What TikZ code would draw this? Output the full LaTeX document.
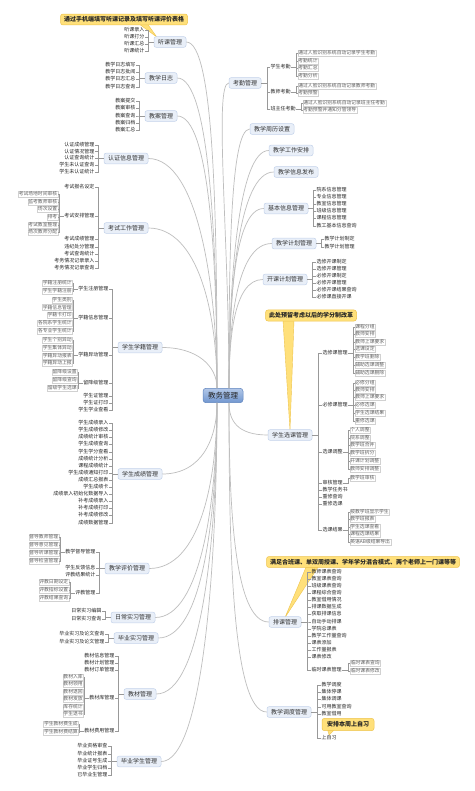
\documentclass[tikz,border=0pt]{standalone}
\usepackage{fontspec}
\setmainfont{Noto Sans CJK SC}
\usetikzlibrary{calc,backgrounds}
\definecolor{lonefill}{HTML}{E9EFF8}
\definecolor{loneb}{HTML}{C3D2EA}
\definecolor{roottop}{HTML}{B3C8E8}
\definecolor{rootbot}{HTML}{7096CF}
\definecolor{rootb}{HTML}{5F84BE}
\definecolor{cy}{HTML}{FFE07A}
\definecolor{cyb}{HTML}{EEC44E}
\definecolor{cline}{HTML}{BEBEBE}
\newcommand\myfs[1]{\fontsize{#1pt}{#1pt}\selectfont}
\tikzset{
  lone/.style={draw=loneb, fill=lonefill, rounded corners=2pt, line width=0.5pt, inner xsep=4pt, inner ysep=2.5pt, font=\myfs{6}, text=black!80},
  rootbox/.style={draw=rootb, top color=roottop, bottom color=rootbot, rounded corners=3pt, line width=0.5pt, inner xsep=5pt, inner ysep=3.75pt, font=\myfs{7.5}, text=black!85},
  ltwo/.style={inner sep=0.5pt, font=\myfs{5}, text=black!85},
  lthree/.style={draw=black!18, line width=0.3pt, inner sep=0.7pt, font=\myfs{4.8}, text=black!62},
  callout/.style={fill=cy, draw=cyb, line width=0.5pt, rounded corners=2.5pt, font=\myfs{6}\bfseries, text=black!85, inner xsep=3.5pt, inner ysep=2.6pt},
  br/.style={draw=black!40, line width=0.35pt},
  rootline/.style={draw=cline, line width=0.7pt},
  wedge/.style={fill=cy, draw=cyb, line width=0.4pt, line join=round},
}
% left children: style, parent, prefix, east x, spine offset, list
\newcommand\LK[6]{%
  \foreach \itm/\ypos [count=\i] in {#6}{%
    \node[#1,anchor=east] (#3-\i) at (#4,-\ypos) {\itm};
    \draw[br] (#2.west) -- ++(-#5,0) |- (#3-\i.east);
  }}
% right children
\newcommand\RK[6]{%
  \foreach \itm/\ypos [count=\i] in {#6}{%
    \node[#1,anchor=west] (#3-\i) at (#4,-\ypos) {\itm};
    \draw[br] (#2.east) -- ++(#5,0) |- (#3-\i.west);
  }}
\newcommand\rootlink[6]{\draw[rootline] (#1) to[out=#3,in=#4,out distance=#5pt,in distance=#6pt] (#2);}
\begin{document}
\begin{tikzpicture}[x=1pt,y=1pt]
\useasboundingbox (0,0) rectangle (474,-791);
% root
\node[rootbox] (root) at (223,-395.5) {教务管理};
% level one, left
\node[lone] (tk) at (170,-42) {听课管理};
\node[lone] (rz) at (161,-78) {教学日志};
\node[lone] (ja) at (161,-116) {教案管理};
\node[lone] (rzx) at (126,-158.5) {认证信息管理};
\node[lone] (ks) at (126,-228) {考试工作管理};
\node[lone] (xj) at (140,-347.5) {学生学籍管理};
\node[lone] (cj) at (140,-474) {学生成绩管理};
\node[lone] (pj) at (127,-568.5) {教学评价管理};
\node[lone] (rc) at (133,-617.5) {日常实习管理};
\node[lone] (by) at (136,-638) {毕业实习管理};
\node[lone] (jc) at (140,-694) {教材管理};
\node[lone] (bx) at (139,-761.5) {毕业学生管理};
% level one, right
\node[lone] (kq) at (245,-83) {考勤管理};
\node[lone] (zl) at (272,-129) {教学周历设置};
\node[lone] (gz) at (291,-150.5) {教学工作安排};
\node[lone] (fb) at (296,-172) {教学信息发布};
\node[lone] (jb) at (286,-208.5) {基本信息管理};
\node[lone] (jh) at (294,-243.5) {教学计划管理};
\node[lone] (kk) at (285,-279.5) {开课计划管理};
\node[lone] (xk) at (290,-435) {学生选课管理};
\node[lone] (pk) at (285,-622) {排课管理};
\node[lone] (dd) at (289,-712) {教学调度管理};

% children, left
\LK{ltwo}{tk}{tk}{145}{6}{听课录入/30,听课打分/37,听课汇总/44,听课统计/51}
\LK{ltwo}{rz}{rz}{136}{6}{教学日志填写/65,教学日志批阅/72,教学日志汇总/79,教学日志查询/87}
\LK{ltwo}{ja}{ja}{136}{6}{教案提交/101,教案审核/108,教案查询/116,教案归档/123,教案汇总/130}
\LK{ltwo}{rzx}{rzx}{95}{6}{认证成绩管理/145,认证情况管理/151.5,认证查询统计/158,学生未认证查询/165,学生未认证统计/172}
\LK{ltwo}{ks}{ks}{95}{6}{考试报名设定/187,考试安排管理/216,考试成绩管理/239,违纪处分管理/247,考试查询统计/254,考务情况记录录入/261,考务情况记录查询/268}
\LK{lthree}{ks-2}{ksa}{58}{4}{考试场地时间审核/194,监考教师审核/202,场次设置/209,排考/217,考试教室整理/225,场次教师分配/232}
\LK{ltwo}{xj}{xj}{109}{6}{学生注册管理/289,学籍信息管理/318,学籍异动管理/355,留降级管理/383,学生证管理/396,学生证打印/403,学生学业查看/410}
\LK{lthree}{xj-1}{xja}{72.5}{4}{学籍注册统计/283,学生学籍注册/291}
\LK{lthree}{xj-2}{xjb}{72.5}{4}{学生类别/300,学籍信息管理/307.5,学籍卡打印/315,各院系学生统计/323,各专业学生统计/331}
\LK{lthree}{xj-3}{xjc}{72.5}{4}{学生个别异动/340,学生集体异动/348,学籍异动报表/356,学籍异动上报/363}
\LK{lthree}{xj-4}{xjd}{77.5}{4}{留降级设置/372,留降级查询/380,留级学生选课/388}
\LK{ltwo}{cj}{cj}{109}{6}{学生成绩录入/423,学生成绩修改/430,成绩统计审核/437,学生成绩查询/444,学生学分查看/452,成绩统计分析/459,课程成绩统计/466,学生成绩通知打印/473,成绩汇总报表/480,学生成绩卡/487,成绩录入初始化数据导入/494,补考成绩录入/501,补考成绩打印/508,补考成绩修改/515,成绩数据管理/523}
\LK{ltwo}{pj}{pj}{96}{6}{教学督导管理/552,学生反馈信息/568,评教结果统计/575,评教管理/593}
\LK{lthree}{pj-1}{pja}{59}{4}{督导教师管理/537,督导意见管理/545,督导听课管理/553,督导检查管理/561}
\LK{lthree}{pj-4}{pjb}{69}{4}{评教日期设定/582,评教指标设置/590,评教结果查询/598}
\LK{ltwo}{rc}{rc}{102}{6}{日常实习编辑/611,日常实习查询/619}
\LK{ltwo}{by}{by}{105}{6}{毕业实习及论文查询/634,毕业实习及论文管理/642}
\LK{ltwo}{jc}{jc}{115}{6}{教材信息管理/656,教材计划管理/663,教材订单管理/670,教材库管理/698,教材费用管理/731}
\LK{lthree}{jc-4}{jca}{83.5}{4}{教材入库/677,教材领用/684,教材退回/692,教材发放/699,库存统计/707,学生退书/714}
\LK{lthree}{jc-5}{jcb}{78.5}{4}{学生教材费生成/724,学生教材费结算/732}
\LK{ltwo}{bx}{bx}{108}{6}{毕业资格审查/746,毕业统计报表/754,毕业证号生成/761,毕业学生归档/768,已毕业生管理/775}

% children, right
\RK{ltwo}{kq}{kq}{270}{6}{学生考勤/67,教师考勤/92,班主任考勤/109}
\RK{lthree}{kq-1}{kqa}{297.5}{5}{通过人脸识别系统自动记录学生考勤/53,考勤统计/61,考勤汇总/68,考勤分析/76}
\RK{lthree}{kq-2}{kqb}{297.5}{5}{通过人脸识别系统自动记录教师考勤/86,考勤预警/93}
\RK{lthree}{kq-3}{kqc}{302.5}{5}{通过人脸识别系统自动记录班主任考勤/103,考勤预警并通知分管领导/110}
\RK{ltwo}{jb}{jb}{316}{5}{院系信息管理/190,专业信息管理/197,教室信息管理/204,班级信息管理/211,课程信息管理/218,教工基本信息查询/226}
\RK{ltwo}{jh}{jh}{324}{5}{教学计划制定/239,教学计划管理/247}
\RK{ltwo}{kk}{kk}{316}{5}{选修开课制定/262,选修开课管理/269,必修开课制定/276,必修开课管理/283,必修开课结果查询/290,必修课直接开课/297}
\RK{ltwo}{xk}{xk}{322}{6}{选修课管理/353,必修课管理/405,选课调整/452,审核管理/483,教学任务书/490,重修查询/497,重修选课/504,选课结果/530}
\RK{lthree}{xk-1}{xka}{354.5}{5}{课程分组/327,教师安排/334,教师上课要求/342,选课设定/349,教学班删除/357,辅助选课调整/365,辅助选课删除/373}
\RK{lthree}{xk-2}{xkb}{354.5}{5}{必修分组/383,教师安排/390,教师上课要求/397,必修选课/405,学生选课结果/413,重修选课/421}
\RK{lthree}{xk-3}{xkc}{349.5}{5}{个人调整/430,院系调整/438,教学班合并/445,教学班拆分/453,开课计划调整/461,教师安排调整/469}
\RK{lthree}{xk-4}{xkd}{349.5}{5}{教学班审核/478}
\RK{lthree}{xk-8}{xke}{349.5}{5}{按教学班显示学生/512,教学班报表/519,学生选课查看/527,课程选课结果/534,英语AB级结果导出/542}
\RK{ltwo}{pk}{pk}{311}{6}{教师课表查询/572,教室课表查询/579,班级课表查询/586,课程综合查询/593,教室借用情况/600,排课数据生成/607,获取排课信息/614,自动手动排课/622,学院总课表/629,教学工作量查询/636,课表添加/643,工作量报表/650,课表修改/657,临时课表管理/670}
\RK{lthree}{pk-14}{pka}{350}{6}{临时课表查询/663,临时课表修改/671}
\RK{ltwo}{dd}{dd}{321}{6}{教学调度/685,集体停课/692,集体调课/699,可用教室查询/707,教室借用/714,上自习/738}

% root links
\coordinate (rnl) at ($(root.north)+(-6,0)$);
\coordinate (rnr) at ($(root.north)+(6,0)$);
\coordinate (rsl) at ($(root.south)+(-6,0)$);
\coordinate (rsr) at ($(root.south)+(6,0)$);
\rootlink{rnl}{tk.east}{90}{0}{170}{28}
\rootlink{rnl}{rz.east}{90}{0}{150}{32}
\rootlink{rnl}{ja.east}{90}{0}{130}{32}
\rootlink{rnl}{rzx.east}{90}{0}{100}{50}
\rootlink{rnl}{ks.east}{90}{0}{75}{50}
\rootlink{rnl}{xj.east}{90}{0}{22}{35}
\rootlink{rnr}{kq.west}{90}{180}{150}{15}
\rootlink{rnr}{zl.west}{90}{180}{120}{20}
\rootlink{rnr}{gz.west}{90}{180}{110}{30}
\rootlink{rnr}{fb.west}{90}{180}{100}{35}
\rootlink{rnr}{jb.west}{90}{180}{80}{30}
\rootlink{rnr}{jh.west}{90}{180}{65}{35}
\rootlink{rnr}{kk.west}{90}{180}{45}{30}
\rootlink{rsl}{cj.east}{-90}{0}{35}{40}
\rootlink{rsl}{pj.east}{-90}{0}{80}{50}
\rootlink{rsl}{rc.east}{-90}{0}{100}{45}
\rootlink{rsl}{by.east}{-90}{0}{110}{45}
\rootlink{rsl}{jc.east}{-90}{0}{140}{45}
\rootlink{rsl}{bx.east}{-90}{0}{175}{40}
\rootlink{rsr}{xk.west}{-90}{180}{18}{30}
\rootlink{rsr}{pk.west}{-90}{180}{100}{35}
\rootlink{rsr}{dd.west}{-90}{180}{140}{35}

% callouts
\node[callout] (cl1) at (124,-19.5) {通过手机端填写听课记录及填写听课评价表格};
\node[callout] (cl2) at (311,-315.5) {此处预留考虑以后的学分制改革};
\node[callout] (cl3) at (363,-562) {满足合班课、单双周授课、学年学分混合模式、两个老师上一门课等等};
\node[callout, inner xsep=5pt, inner ysep=3.3pt] (cl4) at (348,-724.5) {安排本周上自习};

\begin{scope}[on background layer]
\fill[white] (0,0) rectangle (474,-791);
\filldraw[wedge] ($(cl1.south)+(16,0.6)$) -- ($(cl1.south)+(24,0.6)$) -- ($(tk.north west)+(3,-0.5)$) -- cycle;
\filldraw[wedge] ($(cl2.south)+(-28,0.6)$) -- ($(cl2.south)+(-17,0.6)$) -- ($(xk.north)+(0,-1)$) -- cycle;
\filldraw[wedge] ($(cl3.south)+(-57,0.6)$) -- ($(cl3.south)+(-45,0.6)$) -- ($(pk.north)+(0,-1)$) -- cycle;
\filldraw[wedge] ($(cl4.south west)+(6,0.6)$) -- ($(cl4.south west)+(12,0.6)$) -- (dd-6.north) -- cycle;
\end{scope}
\end{tikzpicture}
\end{document}
